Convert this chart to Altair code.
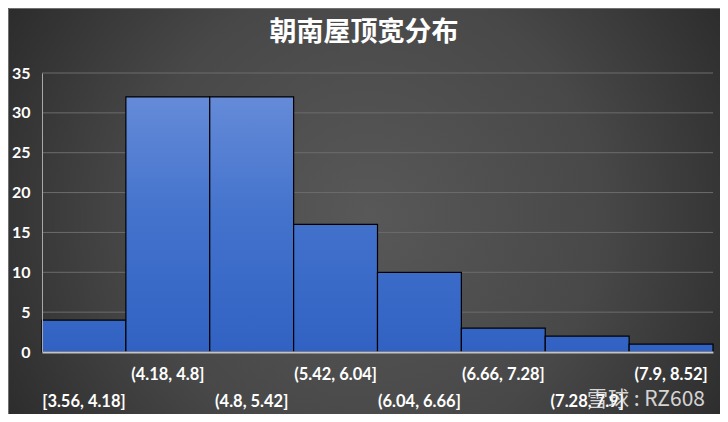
import altair as alt
import pandas as pd

# ---- data ----
bin_start = [3.56, 4.18, 4.8, 5.42, 6.04, 6.66, 7.28, 7.9]
bin_end = [4.18, 4.8, 5.42, 6.04, 6.66, 7.28, 7.9, 8.52]
counts = [4, 32, 32, 16, 10, 3, 2, 1]
bin_labels = ["[3.56, 4.18]", "(4.18, 4.8]", "(4.8, 5.42]", "(5.42, 6.04]",
              "(6.04, 6.66]", "(6.66, 7.28]", "(7.28, 7.9]", "(7.9, 8.52]"]
y_ticks = [0, 5, 10, 15, 20, 25, 30, 35]
title_text = "朝南屋顶宽分布"
watermark = "雪球 : RZ608"

df = pd.DataFrame({
    "start": bin_start,
    "end": bin_end,
    "count": counts,
    "label": bin_labels,
    "row": [i % 2 for i in range(len(counts))],
})
grid_df = pd.DataFrame({"v": y_ticks[1:]})

W, H = 671, 279
PL, PT, PR, PB = 34, 65, 7, 62

x_scale = alt.Scale(domain=[3.56, 8.52], nice=False, zero=False)
y_scale = alt.Scale(domain=[0, 35], nice=False)

y_axis = alt.Axis(values=y_ticks, tickCount=8, title=None, ticks=False, grid=False,
                  labelFont="Lato", labelFontSize=16, labelFontWeight="bold",
                  labelColor="white", labelPadding=12,
                  labelOverlap=False, labelFlush=False,
                  domainColor="#a8a8a8", domainWidth=1, zindex=1)
x_axis = alt.Axis(labels=False, ticks=False, grid=False, title=None,
                  domainColor="#c4c4c4", domainWidth=2, zindex=1)

bg = alt.Chart(alt.Data(values=[{}])).mark_rect(
    fill=alt.Gradient(
        gradient="radial", x1=0.5, y1=0.5, r1=0, x2=0.5, y2=0.5, r2=0.72,
        stops=[alt.GradientStop(offset=0, color="#585858"),
               alt.GradientStop(offset=0.45, color="#484848"),
               alt.GradientStop(offset=1, color="#1c1c1c")]),
    stroke="#707070", strokeWidth=1,
).encode(
    x=alt.value(-PL + 0.5), x2=alt.value(W + PR + 8),
    y=alt.value(-PT + 0.5), y2=alt.value(H + PB + 8),
)

grid = alt.Chart(grid_df).mark_rule(color="#6c6c6c", strokeWidth=1).encode(
    y=alt.Y("v:Q", scale=y_scale, axis=y_axis),
    x=alt.value(0), x2=alt.value(W),
)

grad_expr = (
    "{gradient: 'linear', x1: 0, x2: 0, y1: 1 - 35 / datum.count, y2: 1,"
    " stops: [{offset: 0, color: '#6c90da'}, {offset: 0.5, color: '#4473cd'},"
    " {offset: 1, color: '#3162c3'}]}"
)

bars = alt.Chart(df).transform_calculate(grad=grad_expr).mark_rect(
    stroke="black", strokeWidth=1.2,
).encode(
    x=alt.X("start:Q", scale=x_scale, axis=x_axis),
    x2="end:Q",
    y=alt.Y("count:Q", scale=y_scale, axis=y_axis),
    y2=alt.datum(0),
    fill=alt.Fill("grad:N", scale=None, legend=None),
)

label_base = alt.Chart(df).transform_calculate(mid="(datum.start + datum.end) / 2")

row1 = label_base.transform_filter("datum.row == 1").mark_text(
    font="Lato", fontSize=16.5, fontWeight="bold", color="white", baseline="middle",
).encode(x=alt.X("mid:Q", scale=x_scale, axis=x_axis), y=alt.value(302), text="label:N")

row2 = label_base.transform_filter("datum.row == 0").mark_text(
    font="Lato", fontSize=16.5, fontWeight="bold", color="white", baseline="middle",
).encode(x=alt.X("mid:Q", scale=x_scale, axis=x_axis), y=alt.value(329), text="label:N")

title = alt.Chart(alt.Data(values=[{"t": title_text}])).mark_text(
    font="Noto Sans CJK SC", fontSize=27, fontWeight="bold", color="white",
    baseline="middle", align="center",
).encode(x=alt.value(322), y=alt.value(-40), text="t:N")

wm = alt.Chart(alt.Data(values=[{"t": watermark}])).mark_text(
    font="Noto Sans CJK SC", fontSize=21, color="#f0f0f0", opacity=0.85,
    baseline="middle", align="right",
).encode(x=alt.value(663), y=alt.value(327), text="t:N")

chart = alt.layer(bg, grid, bars, row1, row2, title, wm).properties(
    width=W, height=H,
    padding={"left": PL, "top": PT, "right": PR, "bottom": PB},
    autosize=alt.AutoSizeParams(type="none"),
    background="#2a2a2a",
).configure_view(stroke=None)

chart.save("out.html", embed_options={"renderer": "svg", "actions": False})
